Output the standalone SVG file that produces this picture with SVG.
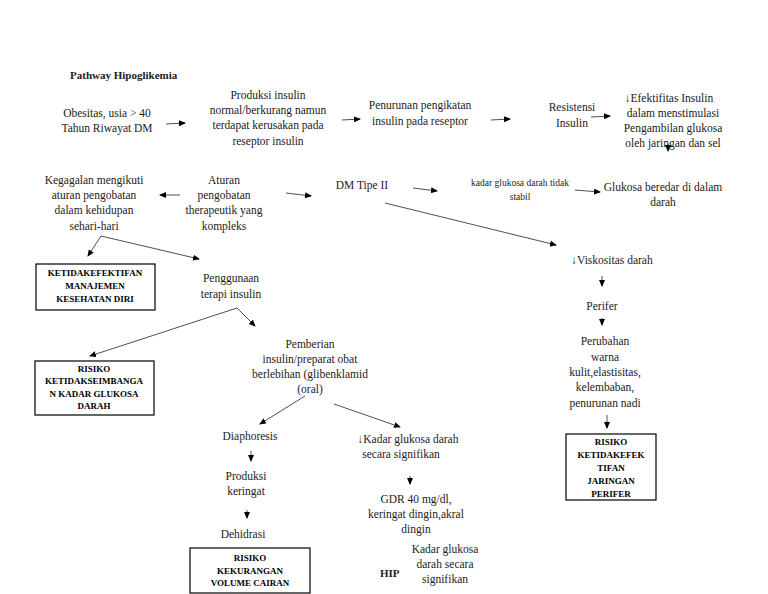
<svg xmlns="http://www.w3.org/2000/svg" width="768" height="594" viewBox="0 0 768 594">
<style>
text{font-family:"Liberation Serif",serif;font-size:11.5px;fill:#222;text-anchor:middle}
.b{font-weight:bold;font-size:9px;fill:#000}
.s{font-size:9.5px}
.t{font-weight:bold;font-size:11px;text-anchor:start}
rect{fill:#fff;stroke:#000;stroke-width:1.2}
.c line{stroke:#222;stroke-width:0.8;marker-end:url(#a)}
</style>
<defs><marker id="a" markerWidth="7" markerHeight="6" refX="6" refY="3" orient="auto" markerUnits="userSpaceOnUse"><path d="M0,0L7,3L0,6z" fill="#000"/></marker></defs>
<rect x="0" y="0" width="768" height="594" style="stroke:none"/>
<text class="t" x="70" y="79">Pathway Hipoglikemia</text>
<g id="n1"><text x="107" y="117">Obesitas, usia &gt; 40</text><text x="107" y="132">Tahun  Riwayat DM</text></g>
<g id="n2"><text x="268" y="99">Produksi insulin</text><text x="268" y="114">normal/berkurang namun</text><text x="268" y="129">terdapat kerusakan pada</text><text x="268" y="145">reseptor insulin</text></g>
<g id="n3"><text x="420" y="109">Penurunan pengikatan</text><text x="420" y="125">insulin pada reseptor</text></g>
<g id="n4"><text x="572" y="111">Resistensi</text><text x="572" y="127">Insulin</text></g>
<g id="n5"><text x="669" y="102">↓Efektifitas Insulin</text><text x="673" y="117">dalam menstimulasi</text><text x="673" y="132">Pengambilan glukosa</text><text x="673" y="147">oleh jaringan dan sel</text></g>
<g id="n6"><text x="663" y="191">Glukosa beredar di dalam</text><text x="663" y="206">darah</text></g>
<g id="n7"><text class="s" x="520" y="186">kadar glukosa darah tidak</text><text class="s" x="520" y="200">stabil</text></g>
<g id="n8"><text x="362" y="189">DM Tipe II</text></g>
<g id="n9"><text x="224" y="184">Aturan</text><text x="224" y="199">pengobatan</text><text x="224" y="214">therapeutik yang</text><text x="224" y="230">kompleks</text></g>
<g id="n10"><text x="94" y="184">Kegagalan mengikuti</text><text x="94" y="199">aturan pengobatan</text><text x="94" y="214">dalam kehidupan</text><text x="94" y="230">sehari-hari</text></g>
<g id="n11"><rect x="36" y="264" width="119" height="46"/><text class="b" x="95" y="276">KETIDAKEFEKTIFAN</text><text class="b" x="95" y="289">MANAJEMEN</text><text class="b" x="95" y="302">KESEHATAN DIRI</text></g>
<g id="n12"><text x="231" y="282">Penggunaan</text><text x="231" y="298">terapi insulin</text></g>
<g id="n13"><rect x="35" y="361" width="119" height="54"/><text class="b" x="94" y="372">RISIKO</text><text class="b" x="94" y="384">KETIDAKSEIMBANGA</text><text class="b" x="94" y="397">N KADAR GLUKOSA</text><text class="b" x="94" y="409">DARAH</text></g>
<g id="n14"><text x="310" y="348">Pemberian</text><text x="310" y="363">insulin/preparat obat</text><text x="310" y="378">berlebihan (glibenklamid</text><text x="310" y="393">(oral)</text></g>
<g id="n15"><text x="250" y="440">Diaphoresis</text></g>
<g id="n16"><text x="246" y="480">Produksi</text><text x="246" y="495">keringat</text></g>
<g id="n17"><text x="243" y="538">Dehidrasi</text></g>
<g id="n18"><rect x="190" y="548" width="120" height="45"/><text class="b" x="250" y="561">RISIKO</text><text class="b" x="250" y="574">KEKURANGAN</text><text class="b" x="250" y="586">VOLUME CAIRAN</text></g>
<g id="n19"><text x="408" y="443">↓Kadar glukosa darah</text><text x="401" y="458">secara signifikan</text></g>
<g id="n20"><text x="416" y="503">GDR 40 mg/dl,</text><text x="416" y="518">keringat dingin,akral</text><text x="416" y="533">dingin</text></g>
<g id="n21"><text x="445" y="553">Kadar glukosa</text><text x="445" y="568">darah secara</text><text x="445" y="583">signifikan</text><text class="t" x="380" y="577">HIP</text></g>
<g id="n22"><text x="612" y="264">↓Viskositas darah</text></g>
<g id="n23"><text x="602" y="310">Perifer</text></g>
<g id="n24"><text x="605" y="345">Perubahan</text><text x="605" y="361">warna</text><text x="605" y="376">kulit,elastisitas,</text><text x="605" y="391">kelembaban,</text><text x="605" y="407">penurunan nadi</text></g>
<g id="n25"><rect x="566" y="434" width="90" height="66"/><text class="b" x="611" y="445">RISIKO</text><text class="b" x="611" y="458">KETIDAKEFEK</text><text class="b" x="611" y="471">TIFAN</text><text class="b" x="611" y="484">JARINGAN</text><text class="b" x="611" y="497">PERIFER</text></g>
<g class="c" id="connectors">
<line x1="166" y1="124" x2="185" y2="123"/>
<line x1="342" y1="120" x2="360" y2="119"/>
<line x1="491" y1="120" x2="510" y2="119"/>
<line x1="591" y1="117" x2="610" y2="116"/>
<line x1="668" y1="144" x2="668" y2="151"/>
<line x1="413" y1="188" x2="437" y2="191"/>
<line x1="575" y1="190" x2="600" y2="192"/>
<line x1="180" y1="195" x2="160" y2="195"/>
<line x1="286" y1="193" x2="311" y2="196"/>
<line x1="101" y1="236" x2="88" y2="256"/>
<line x1="101" y1="236" x2="199" y2="259"/>
<line x1="237" y1="308" x2="90" y2="356"/>
<line x1="237" y1="308" x2="255" y2="326"/>
<line x1="305" y1="396" x2="260" y2="424"/>
<line x1="334" y1="404" x2="400" y2="427"/>
<line x1="251" y1="451" x2="251" y2="461"/>
<line x1="247" y1="510" x2="247" y2="518"/>
<line x1="410" y1="476" x2="410" y2="484"/>
<line x1="385" y1="203" x2="556" y2="245"/>
<line x1="602" y1="276" x2="602" y2="286"/>
<line x1="602" y1="318" x2="602" y2="325"/>
<line x1="607" y1="415" x2="607" y2="428"/>
</g>
</svg>
